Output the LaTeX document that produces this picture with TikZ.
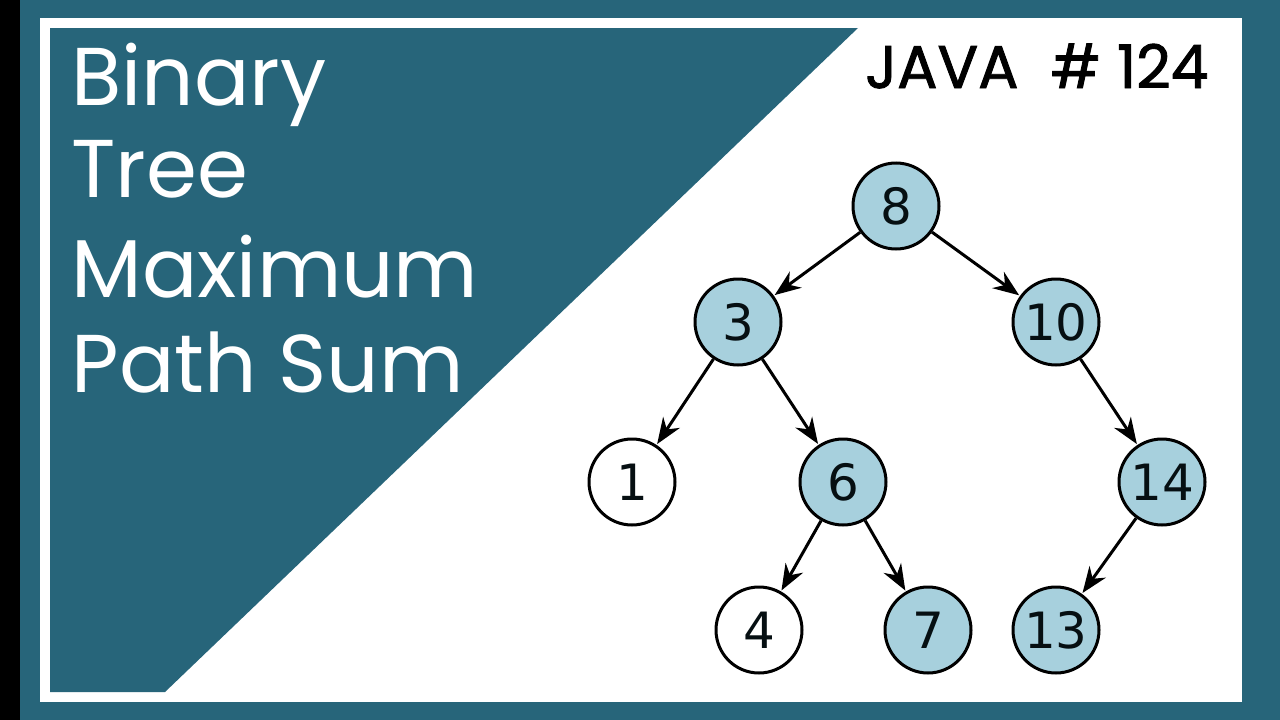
\documentclass[tikz,border=0pt]{standalone}
\usepackage{fontspec}
\setmainfont{Poppins}
\newfontfamily\javafont[FakeBold=1.5]{Poppins}
\newfontfamily\numfont{DejaVu Sans}
\usetikzlibrary{arrows.meta}
\definecolor{teal1}{HTML}{27657A}
\definecolor{nodeblue}{HTML}{A7D0DD}
\tikzset{
  tn/.style={circle,draw=black,line width=3pt,minimum size=86pt,inner sep=0pt,font=\numfont\fontsize{50}{50}\selectfont,text=black!85!teal1},
  tb/.style={tn,fill=nodeblue},
  tw/.style={tn,fill=white},
  edge/.style={-{Stealth[length=26pt,width=20pt]},line width=3pt,shorten >=1pt},
  title/.style={anchor=base west,text=white,font=\fontsize{82}{82}\selectfont}
}
\begin{document}
\begin{tikzpicture}[x=1pt,y=-1pt]
\useasboundingbox (0,0) rectangle (1280,720);
\fill[teal1] (0,0) rectangle (1280,720);
\fill[black] (0,0) rectangle (20,720);
\fill[white] (40,18) rectangle (1242,702);
\fill[teal1] (50,28) -- (858,28) -- (165,692) -- (50,692) -- cycle;
\node[title] (t1) at (68,105) {Binary};
\node[title] (t2) at (68,197) {Tree};
\node[title] (t3) at (68,297) {Maximum};
\node[title] (t4) at (68,392) {Path Sum};
\node[anchor=base east,font=\javafont\fontsize{60}{60}\selectfont] (java) at (1212,88) {JAVA\ \ \# 124};
\node[tb] (n8) at (896,206) {8};
\node[tb] (n3) at (738,322) {3};
\node[tb] (n10) at (1056,322) {10};
\node[tw] (n1) at (632,482) {1};
\node[tb] (n6) at (843,482) {6};
\node[tb] (n14) at (1162,482) {14};
\node[tw] (n4) at (759,630) {4};
\node[tb] (n7) at (928,630) {7};
\node[tb] (n13) at (1056,630) {13};
\draw[edge] (n8) -- (n3);
\draw[edge] (n8) -- (n10);
\draw[edge] (n3) -- (n1);
\draw[edge] (n3) -- (n6);
\draw[edge] (n10) -- (n14);
\draw[edge] (n6) -- (n4);
\draw[edge] (n6) -- (n7);
\draw[edge] (n14) -- (n13);
\end{tikzpicture}
\end{document}
